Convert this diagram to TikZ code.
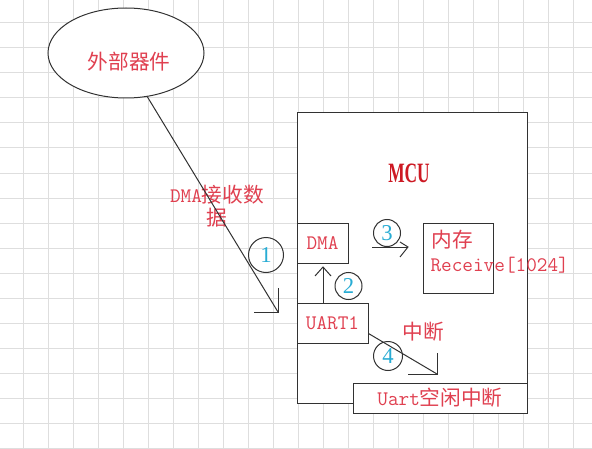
\documentclass[tikz,border=0pt]{standalone}
\usepackage{fontspec}
\newfontfamily\cjkfont{Noto Sans CJK SC}
\newfontfamily\headfont{Liberation Serif}
\usetikzlibrary{shapes.geometric}

\definecolor{lblred}{RGB}{224,64,80}
\definecolor{mcured}{RGB}{205,25,35}
\definecolor{numcyan}{RGB}{40,172,212}
\definecolor{gridgray}{RGB}{222,222,222}
\definecolor{linegray}{RGB}{50,50,50}

\newcommand\lblsize{\fontsize{15.5pt}{17.25pt}\selectfont}

\tikzset{every picture/.style={line width=0.75pt}}
\tikzset{
  gridline/.style={draw=gridgray, line width=0.75pt},
  blockbox/.style={draw=linegray, fill=white, rectangle, inner sep=0pt, text=lblred, font=\cjkfont\lblsize},
  redtext/.style={text=lblred, font=\cjkfont\lblsize, inner sep=0.75pt},
  stepnum/.style={circle, draw=linegray, inner sep=0pt, text=numcyan, font=\headfont\fontsize{17pt}{17pt}\selectfont},
  flow/.style={draw=linegray},
}

\begin{document}
\begin{tikzpicture}[x=0.75pt,y=0.75pt,yscale=-1,xscale=1]
			\useasboundingbox (0,0) rectangle (592,449);
			\fill[white] (0,0) rectangle (592,449);

			% Grid
			\foreach \gx in {23,48,...,573} \draw[gridline] (\gx,0) -- (\gx,449);
			\foreach \gy in {23,48,...,448} \draw[gridline] (0,\gy) -- (592,\gy);

			%Shape: Rectangle [MCU]
			\node[blockbox, minimum width=172.5pt, minimum height=217.5pt] (mcu) at (412,258) {};
			%Shape: Rectangle [idle interrupt]
			\node[blockbox, minimum width=130.5pt, minimum height=22.5pt] (idle) at (440,398) {{\ttfamily Uart}空闲中断};
			%Shape: Rectangle [DMA]
			\node[blockbox, minimum width=38.25pt, minimum height=30pt] (dma) at (322.5,243) {\ttfamily DMA};
			%Shape: Rectangle [UART1]
			\node[blockbox, minimum width=53.25pt, minimum height=30pt] (uart1) at (332.5,323) {\ttfamily UART1};
			%Shape: Rectangle [memory]
			\node[blockbox, minimum width=52.5pt, minimum height=52.5pt] (mem) at (458,258) {};
			%Shape: Ellipse [device]
			\node[ellipse, draw=linegray, fill=white, minimum width=117pt, minimum height=67.5pt] (dev) at (126,53) {};

			% Text Node
			\node[redtext] (devlbl) at (129,62) {外部器件};
			% Text Node
			\node[redtext, align=center] (rxlbl) at (217,206) {{\ttfamily DMA}接收数\\据};
			% Text Node
			\node[text=mcured, font=\headfont\bfseries\fontsize{21pt}{21pt}\selectfont, inner sep=0pt] (mcul) at (409,173) {\scalebox{0.62}[1]{MCU}};
			% Text Node
			\node[redtext, anchor=west] (memlbl) at (430,240) {内存};
			% Text Node
			\node[redtext, anchor=west] (buflbl) at (429,265) {\ttfamily Receive[1024]};
			% Text Node
			\node[redtext] (irqlbl) at (423,332) {中断};

			% Step circles
			\node[stepnum, minimum size=26.25pt] (s1) at (266,255) {1};
			\node[stepnum, minimum size=20.25pt] (s2) at (348.5,286) {2};
			\node[stepnum, minimum size=20.25pt] (s3) at (387,233) {3};
			\node[stepnum, minimum size=21.75pt] (s4) at (388,356) {4};

			% Arrow 1
			\coordinate (t1) at (278,312);
			\draw[flow] (dev.-64) -- (t1);
			\draw[flow] (t1) ++(-24,0) -- (t1) -- ++(0,-24);
			% Arrow 2
			\coordinate (t2) at (323,267);
			\draw[flow] (uart1.north -| t2) -- (t2);
			\draw[flow] (t2) ++(-8,9) -- (t2) -- ++(8,9);
			% Arrow 3
			\coordinate (a3) at (372,247);
			\coordinate (t3) at (408,247);
			\draw[flow] (a3) -- (t3);
			\draw[flow] (t3) ++(-8,-5) -- (t3) -- ++(-8,10);
			% Arrow 4
			\coordinate (t4) at (437,374);
			\draw[flow] ([yshift=-7.5pt]uart1.south east) -- (t4);
			\draw[flow] (t4) ++(-29,0) -- (t4) -- ++(0,-21);

		\end{tikzpicture}
\end{document}
